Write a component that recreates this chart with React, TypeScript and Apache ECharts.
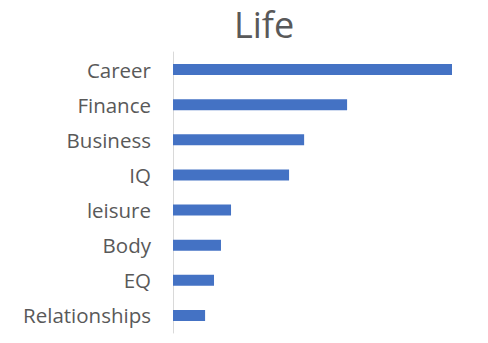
import React, { useEffect, useRef } from "react";
import * as echarts from "echarts";

const categories = ["Career", "Finance", "Business", "IQ", "leisure", "Body", "EQ", "Relationships"];
const values = [100, 62.4, 47, 41.6, 20.8, 17.2, 14.7, 11.5];

export default function App() {
  const ref = useRef<HTMLDivElement>(null);
  useEffect(() => {
    const chart = echarts.init(ref.current!, null, { renderer: "svg" });
    chart.setOption({
      animation: false,
      backgroundColor: "#ffffff",
      title: {
        text: "Life",
        left: 259,
        textAlign: "center",
        top: 1,
        textStyle: { fontFamily: "Open Sans", fontSize: 36, fontWeight: "normal", color: "#595959" },
      },
      grid: { left: 173, top: 52, width: 279, height: 281, containLabel: false },
      xAxis: {
        type: "value",
        min: 0,
        max: 100,
        show: false,
      },
      yAxis: {
        type: "category",
        data: categories,
        inverse: true,
        axisLine: { show: true, lineStyle: { color: "#d9d9d9", width: 1 } },
        axisTick: { show: false },
        axisLabel: {
          margin: 22,
          fontFamily: "Open Sans",
          fontSize: 20.5,
          color: "#595959",
        },
      },
      series: [
        {
          type: "bar",
          data: values,
          barWidth: 11,
          itemStyle: { color: "#4472c4" },
        },
      ],
    });
    return () => chart.dispose();
  }, []);
  return <div ref={ref} style={{ position: "absolute", left: 0, top: 0, width: 488, height: 343 }} />;
}
